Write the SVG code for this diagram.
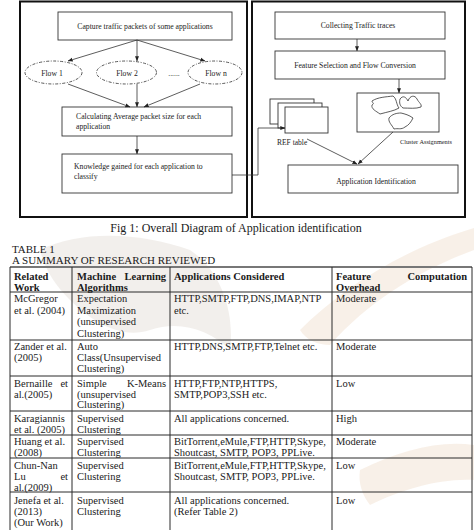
<svg xmlns="http://www.w3.org/2000/svg" width="474" height="530" viewBox="0 0 474 530">
<defs>
<marker id="ah" viewBox="0 0 8 8" refX="7.5" refY="4" markerWidth="5" markerHeight="5" orient="auto" markerUnits="userSpaceOnUse">
<path d="M0,0.8 L8,4 L0,7.2 z" fill="#222"/>
</marker>
<style>
.panel{fill:none;stroke:#111;stroke-width:2}
.box{fill:#fff;stroke:#333;stroke-width:0.9}
.flow{fill:#fff;stroke:#444;stroke-width:0.9;stroke-dasharray:3 1.5 1 1.5}
.t{font-family:"Liberation Serif","Times New Roman",serif;font-size:7.7px;fill:#222}
.c{text-anchor:middle}
.con{fill:none;stroke:#333;stroke-width:0.8;marker-end:url(#ah)}
.ln{fill:none;stroke:#333;stroke-width:0.8}
.tb{font-family:"Liberation Serif","Times New Roman",serif;font-size:10.5px;fill:#1a1a1a}
.b{font-weight:bold}
.e{text-anchor:end}
.grid{stroke:#2a2a2a;stroke-width:1;fill:none}
.wm{fill:#f3e6d8;opacity:0.6}
.wg{fill:#e9e4df;opacity:0.6}
</style>
</defs>
<rect width="474" height="530" fill="#fff"/>
<g id="watermark">
<path class="wm" d="M300,330 C340,290 400,250 474,228 L474,250 C420,270 370,300 330,345 C318,345 306,340 300,330 z"/>
<path class="wg" d="M40,250 C80,230 140,232 190,250 C220,270 235,310 230,350 C210,330 180,320 150,330 C120,340 90,320 70,300 C55,285 45,270 40,250 z"/>
<path class="wm" d="M360,470 C400,450 440,440 474,445 L474,480 C440,478 400,490 370,505 C362,495 358,482 360,470 z"/>
</g>
<g id="panel-left"><rect class="panel" x="20" y="1.5" width="227" height="215.5"/></g>
<g id="panel-right"><rect class="panel" x="252" y="1.5" width="213" height="215.5"/></g>
<g id="n-capture"><rect class="box" x="58" y="12" width="174" height="28"/><text class="t c" x="145" y="28.5">Capture traffic packets of some applications</text></g>
<g id="n-flow1"><ellipse class="flow" cx="53.5" cy="72.5" rx="28.5" ry="11.5"/><text class="t c" x="52" y="75.5">Flow 1</text></g>
<g id="n-flow2"><ellipse class="flow" cx="126.5" cy="72.5" rx="30" ry="11.5"/><text class="t c" x="127" y="75.5">Flow 2</text></g>
<g id="n-dots"><text class="t c" x="174" y="76">......</text></g>
<g id="n-flown"><ellipse class="flow" cx="215" cy="72.5" rx="27" ry="11.5"/><text class="t c" x="216" y="75.5">Flow n</text></g>
<g id="n-calc"><rect class="box" x="62" y="107" width="170" height="29"/><text class="t" x="76" y="119">Calculating  Average packet size for each</text><text class="t" x="76" y="129">application</text></g>
<g id="n-know"><rect class="box" x="62" y="154" width="170" height="39"/><text class="t" x="74" y="169">Knowledge gained for each application  to</text><text class="t" x="74" y="179">classify</text></g>
<g id="n-collect"><rect class="box" x="275" y="12" width="170" height="27"/><text class="t c" x="358" y="28">Collecting  Traffic traces</text></g>
<g id="n-feature"><rect class="box" x="275" y="51" width="170" height="28"/><text class="t c" x="355" y="67.5">Feature Selection  and Flow Conversion</text></g>
<g id="n-ref">
<rect class="box" x="270" y="99" width="44" height="25"/>
<rect class="box" x="278" y="103" width="44" height="25"/>
<rect class="box" x="285" y="107" width="43" height="26"/>
<text class="t" x="277" y="145" style="font-size:7.5px">REF table</text>
</g>
<g id="n-cluster">
<rect class="box" x="357" y="93" width="82" height="39"/>
<path class="ln" d="M372,101 C378,97 386,97 393,96 C397,99 396,104 399,108 C394,111 387,112 380,114 C376,111 371,109 372,105 C375,103 372,103 372,101 z"/>
<path class="ln" d="M400,99 C403,95 406,97 408,101 C410,95 415,95 417,99 C419,103 422,104 421,107 C416,109 409,108 403,108 C400,106 399,103 400,99 z"/>
<path class="ln" d="M389,118 C392,114 397,113 401,113 C405,114 409,115 413,118 C411,122 409,125 405,127 C401,130 398,128 394,129 C392,125 388,122 389,118 z"/>
<text class="t" x="400" y="144" style="font-size:6.3px">Cluster Assignments</text>
</g>
<g id="n-appid"><rect class="box" x="288" y="165" width="170" height="28"/><text class="t c" x="376" y="184">Application  Identification</text></g>
<g id="connectors">
<line class="con" x1="137" y1="40" x2="68" y2="61"/>
<line class="con" x1="137" y1="40" x2="137" y2="61"/>
<line class="con" x1="137" y1="40" x2="205" y2="61"/>
<line class="con" x1="68" y1="84" x2="130" y2="107"/>
<line class="con" x1="137" y1="84" x2="137" y2="107"/>
<line class="con" x1="200" y1="84" x2="144" y2="107"/>
<line class="con" x1="137" y1="136" x2="137" y2="154"/>
<polyline class="con" points="232,175 258,175 258,128 285,128"/>
<line class="con" x1="357" y1="39" x2="357" y2="51"/>
<line class="con" x1="399" y1="79" x2="399" y2="93"/>
<line class="con" x1="307" y1="139" x2="357" y2="164"/>
<line class="con" x1="393" y1="132" x2="358" y2="164"/>
</g>
<g id="caption">
<text class="tb" x="236" y="232" text-anchor="middle" style="font-size:12px">Fig 1: Overall Diagram of Application identification</text>
<text class="tb" x="12" y="253" style="font-size:11px">TABLE 1</text>
<text class="tb" x="12" y="264" style="font-size:11px">A SUMMARY OF RESEARCH REVIEWED</text>
</g>
<g id="table">
<line x1="10" y1="267" x2="472" y2="267" stroke="#777" stroke-width="2"/>
<g class="grid">
<line x1="10" y1="292" x2="472" y2="292"/>
<line x1="10" y1="340" x2="472" y2="340"/>
<line x1="10" y1="376" x2="472" y2="376"/>
<line x1="10" y1="411" x2="472" y2="411"/>
<line x1="10" y1="435" x2="472" y2="435"/>
<line x1="10" y1="458" x2="472" y2="458"/>
<line x1="10" y1="492" x2="472" y2="492"/>
<line x1="10" y1="267" x2="10" y2="530"/>
<line x1="72" y1="267" x2="72" y2="530"/>
<line x1="170" y1="267" x2="170" y2="530"/>
<line x1="332" y1="267" x2="332" y2="530"/>
<line x1="472" y1="267" x2="472" y2="530"/>
</g>
<g id="row-header" class="tb b">
<text x="14" y="280">Related</text><text x="14" y="290.5">Work</text>
<text x="77" y="280">Machine</text><text x="166" y="280" class="e">Learning</text><text x="77" y="290.5">Algorithms</text>
<text x="174" y="280">Applications Considered</text>
<text x="336" y="280">Feature</text><text x="467" y="280" class="e">Computation</text><text x="336" y="290.5">Overhead</text>
</g>
<g id="row-mcgregor" class="tb">
<text x="14" y="302">McGregor</text><text x="14" y="313.5">et al. (2004)</text>
<text x="77" y="302">Expectation</text><text x="77" y="313.5">Maximization</text><text x="77" y="325">(unsupervised</text><text x="77" y="336.5">Clustering)</text>
<text x="174" y="302">HTTP,SMTP,FTP,DNS,IMAP,NTP</text><text x="174" y="313.5">etc.</text>
<text x="336" y="302">Moderate</text>
</g>
<g id="row-zander" class="tb">
<text x="14" y="349.5">Zander et al.</text><text x="14" y="360.5">(2005)</text>
<text x="77" y="349.5">Auto</text><text x="77" y="360.5">Class(Unsupervised</text><text x="77" y="371.5">Clustering)</text>
<text x="174" y="349.5">HTTP,DNS,SMTP,FTP,Telnet etc.</text>
<text x="336" y="349.5">Moderate</text>
</g>
<g id="row-bernaille" class="tb">
<text x="14" y="387">Bernaille</text><text x="68" y="387" class="e">et</text><text x="14" y="397.5">al.(2005)</text>
<text x="77" y="387">Simple</text><text x="166" y="387" class="e">K-Means</text><text x="77" y="397.5">(unsupervised</text><text x="77" y="408">Clustering)</text>
<text x="174" y="387">HTTP,FTP,NTP,HTTPS,</text><text x="174" y="397.5">SMTP,POP3,SSH etc.</text>
<text x="336" y="387">Low</text>
</g>
<g id="row-karagiannis" class="tb">
<text x="14" y="422">Karagiannis</text><text x="14" y="433">et al. (2005)</text>
<text x="77" y="422">Supervised</text><text x="77" y="433">Clustering</text>
<text x="174" y="422">All applications concerned.</text>
<text x="336" y="422">High</text>
</g>
<g id="row-huang" class="tb">
<text x="14" y="445">Huang et al.</text><text x="14" y="455.5">(2008)</text>
<text x="77" y="445">Supervised</text><text x="77" y="455.5">Clustering</text>
<text x="174" y="445">BitTorrent,eMule,FTP,HTTP,Skype,</text><text x="174" y="455.5">Shoutcast, SMTP, POP3, PPLive.</text>
<text x="336" y="445">Moderate</text>
</g>
<g id="row-chunnan" class="tb">
<text x="14" y="468.5">Chun-Nan</text><text x="14" y="479.5">Lu</text><text x="68" y="479.5" class="e">et</text><text x="14" y="490.5">al.(2009)</text>
<text x="77" y="468.5">Supervised</text><text x="77" y="479.5">Clustering</text>
<text x="174" y="468.5">BitTorrent,eMule,FTP,HTTP,Skype,</text><text x="174" y="479.5">Shoutcast, SMTP, POP3, PPLive.</text>
<text x="336" y="468.5">Low</text>
</g>
<g id="row-jenefa" class="tb">
<text x="14" y="503.5">Jenefa et al.</text><text x="14" y="514.5">(2013)</text><text x="14" y="525.5">(Our Work)</text>
<text x="77" y="503.5">Supervised</text><text x="77" y="514.5">Clustering</text>
<text x="174" y="503.5">All applications concerned.</text><text x="174" y="514.5">(Refer Table 2)</text>
<text x="336" y="503.5">Low</text>
</g>
</g>
</svg>
